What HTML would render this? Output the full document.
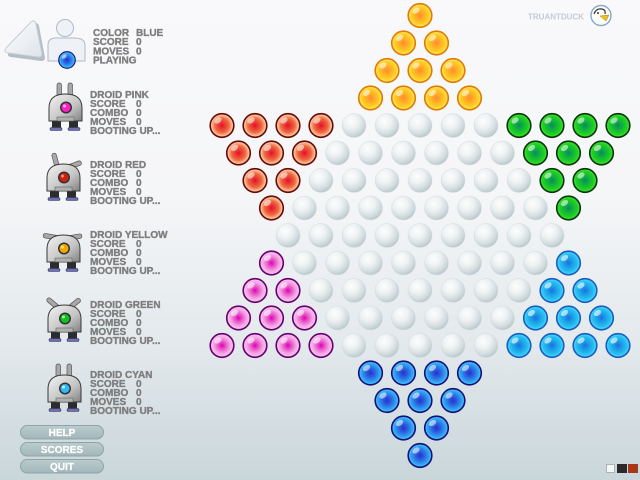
<!DOCTYPE html>
<html><head><meta charset="utf-8"><style>
html,body{margin:0;padding:0;}
body{width:640px;height:480px;overflow:hidden;position:relative;
background:linear-gradient(to bottom,#f9f9fb 0%,#f5f6f8 40%,#e3e9ec 72%,#c9d6da 100%);
font-family:"Liberation Sans",Arial,sans-serif;}
svg{position:absolute;left:0;top:0;}
.t{font-family:"Liberation Sans",Arial,sans-serif;font-weight:bold;font-size:10px;fill:#7e7e7e;stroke:#7e7e7e;stroke-width:0.35px;}
.b{font-family:"Liberation Sans",Arial,sans-serif;font-weight:bold;font-size:10px;fill:#ffffff;stroke:#ffffff;stroke-width:0.2px;}
</style></head><body>
<svg width="640" height="480" viewBox="0 0 640 480" xmlns="http://www.w3.org/2000/svg">
<defs>
<radialGradient id="gR" cx="50%" cy="50%" r="50%"><stop offset="0" stop-color="#e80a30"/><stop offset=".2" stop-color="#e83030"/><stop offset=".6" stop-color="#f06a40"/><stop offset=".9" stop-color="#f8c8a0"/><stop offset="1" stop-color="#f0a080"/></radialGradient>
<radialGradient id="gY" cx="50%" cy="50%" r="50%"><stop offset="0" stop-color="#ff8a30"/><stop offset=".3" stop-color="#ffa828"/><stop offset=".7" stop-color="#ffcc20"/><stop offset="1" stop-color="#ffe870"/></radialGradient>
<radialGradient id="gG" cx="50%" cy="50%" r="50%"><stop offset="0" stop-color="#0a8a60"/><stop offset=".35" stop-color="#10b040"/><stop offset=".75" stop-color="#20d020"/><stop offset="1" stop-color="#40e840"/></radialGradient>
<radialGradient id="gC" cx="50%" cy="50%" r="50%"><stop offset="0" stop-color="#1a70e0"/><stop offset=".35" stop-color="#1c9ce8"/><stop offset=".75" stop-color="#28c0f0"/><stop offset="1" stop-color="#50e0ff"/></radialGradient>
<radialGradient id="gB" cx="50%" cy="50%" r="50%"><stop offset="0" stop-color="#2a30c8"/><stop offset=".35" stop-color="#2a60e0"/><stop offset=".75" stop-color="#30a0f0"/><stop offset="1" stop-color="#50c8ff"/></radialGradient>
<radialGradient id="gM" cx="50%" cy="50%" r="50%"><stop offset="0" stop-color="#e000b0"/><stop offset=".3" stop-color="#e850c8"/><stop offset=".7" stop-color="#f4a8e4"/><stop offset="1" stop-color="#f8c8f0"/></radialGradient>
<radialGradient id="gW" cx="38%" cy="32%" r="72%"><stop offset="0" stop-color="#fdfdfd"/><stop offset=".4" stop-color="#eef2f3"/><stop offset=".75" stop-color="#d2dcdf"/><stop offset="1" stop-color="#b6c5c9"/></radialGradient>
<linearGradient id="gBody" x1="0" y1="0" x2="1" y2="1"><stop offset="0" stop-color="#f4f4f4"/><stop offset=".6" stop-color="#c4c4c4"/><stop offset="1" stop-color="#808080"/></linearGradient>
<linearGradient id="gWedge" x1="0" y1="0" x2="1" y2="1"><stop offset="0" stop-color="#ffffff"/><stop offset="1" stop-color="#dde3ea"/></linearGradient>
<linearGradient id="gBtn" x1="0" y1="0" x2="0" y2="1"><stop offset="0" stop-color="#bccccf"/><stop offset="1" stop-color="#a2b6ba"/></linearGradient>
<g id="mR"><circle r="11.8" fill="url(#gR)" stroke="#6a0808" stroke-width="1.6"/><ellipse cx="-4" cy="-5" rx="4" ry="2.6" fill="#fff" opacity=".55" transform="rotate(-35 -4 -5)"/></g>
<g id="mY"><circle r="11.8" fill="url(#gY)" stroke="#e07a00" stroke-width="1.6"/><ellipse cx="-4" cy="-5" rx="4" ry="2.6" fill="#fff" opacity=".55" transform="rotate(-35 -4 -5)"/></g>
<g id="mG"><circle r="11.8" fill="url(#gG)" stroke="#0a340a" stroke-width="1.6"/><ellipse cx="-4" cy="-5" rx="4" ry="2.6" fill="#fff" opacity=".55" transform="rotate(-35 -4 -5)"/></g>
<g id="mC"><circle r="11.8" fill="url(#gC)" stroke="#1a5cc0" stroke-width="1.6"/><ellipse cx="-4" cy="-5" rx="4" ry="2.6" fill="#fff" opacity=".6" transform="rotate(-35 -4 -5)"/></g>
<g id="mB"><circle r="11.8" fill="url(#gB)" stroke="#12107a" stroke-width="1.6"/><ellipse cx="-4" cy="-5" rx="4" ry="2.6" fill="#fff" opacity=".55" transform="rotate(-35 -4 -5)"/></g>
<g id="mM"><circle r="11.8" fill="url(#gM)" stroke="#660070" stroke-width="1.6"/><ellipse cx="-4" cy="-5" rx="4" ry="2.6" fill="#fff" opacity=".55" transform="rotate(-35 -4 -5)"/></g>
<g id="mW"><circle r="12" fill="url(#gW)" stroke="#d4dde0" stroke-width=".5"/></g>
<g id="droidBase">
<rect x="52" y="120" width="9" height="8" fill="#2c2c2c"/>
<rect x="69" y="120" width="9" height="8" fill="#2c2c2c"/>
<rect x="50" y="127.5" width="12" height="3" rx="1.5" fill="#7070b0" stroke="#303060" stroke-width=".6"/>
<rect x="68" y="127.5" width="12" height="3" rx="1.5" fill="#7070b0" stroke="#303060" stroke-width=".6"/>
<path d="M49,121 L49,108 Q49,94 65.5,94 Q82,94 82,108 L82,121 Z" fill="url(#gBody)" stroke="#3a3a3a" stroke-width="1"/>
<rect x="57" y="117" width="17" height="4" fill="#b0b0b0" stroke="#555" stroke-width=".5"/>
</g>
</defs>

<!-- top-left wedge -->
<path d="M35,24 Q38,22 39,26 L45,58 Q45,61 41,61 L11,57 Q6,56 9,52 Z" fill="#b4bec6"/>
<path d="M31,22 Q35,19 36,24 L42,54 Q42,57 38,57 L8,53 Q3,52 6,48 Z" fill="url(#gWedge)" stroke="#c4ccd4" stroke-width="1"/>

<!-- person -->
<circle cx="65" cy="28" r="8.5" fill="#eef1f6" stroke="#b0b9c6" stroke-width="1"/>
<path d="M48,61 L48,45 Q48,38 56,38 L74,38 Q85,38 85,45 L85,61 Z" fill="#eef1f6" stroke="#b0b9c6" stroke-width="1"/>
<g transform="translate(67,60) scale(0.7)"><use href="#mB"/></g>

<!-- top text -->
<text class="t" x="93" y="36">COLOR</text><text class="t" x="136" y="36">BLUE</text>
<text class="t" x="93" y="45">SCORE</text><text class="t" x="136" y="45">0</text>
<text class="t" x="93" y="54.3">MOVES</text><text class="t" x="136" y="54.3">0</text>
<text class="t" x="93" y="63.3">PLAYING</text>

<!-- droid pink -->
<g>
<rect x="57" y="83" width="4.5" height="14" rx="2" fill="#a8a8a8" stroke="#555" stroke-width=".7"/>
<rect x="68" y="83" width="4.5" height="14" rx="2" fill="#a8a8a8" stroke="#555" stroke-width=".7"/>
<use href="#droidBase"/>
<circle cx="66" cy="107.5" r="6" fill="#333"/><circle cx="66" cy="107.5" r="4.5" fill="#ff20c0"/><circle cx="64.5" cy="106" r="1.5" fill="#ffb0f0"/>
</g>
<text class="t" x="90" y="98">DROID PINK</text>
<text class="t" x="90" y="107">SCORE</text><text class="t" x="136" y="107">0</text>
<text class="t" x="90" y="116">COMBO</text><text class="t" x="136" y="116">0</text>
<text class="t" x="90" y="125">MOVES</text><text class="t" x="136" y="125">0</text>
<text class="t" x="90" y="134">BOOTING UP...</text>

<!-- droid red -->
<g transform="translate(-2,70)">
<rect x="57" y="83" width="4.5" height="14" rx="2" fill="#a8a8a8" stroke="#555" stroke-width=".7" transform="rotate(-15 59 97)"/>
<rect x="68" y="83" width="4.5" height="15" rx="2" fill="#a8a8a8" stroke="#555" stroke-width=".7" transform="rotate(70 70 97)"/>
<use href="#droidBase"/>
<circle cx="66" cy="107.5" r="6" fill="#333"/><circle cx="66" cy="107.5" r="4.5" fill="#d02010"/><circle cx="64.5" cy="106" r="1.5" fill="#ff9080"/>
</g>
<text class="t" x="90" y="168">DROID RED</text>
<text class="t" x="90" y="177">SCORE</text><text class="t" x="136" y="177">0</text>
<text class="t" x="90" y="186">COMBO</text><text class="t" x="136" y="186">0</text>
<text class="t" x="90" y="195">MOVES</text><text class="t" x="136" y="195">0</text>
<text class="t" x="90" y="204">BOOTING UP...</text>

<!-- droid yellow -->
<g transform="translate(-2,141)">
<rect x="57" y="83" width="4.5" height="15" rx="2" fill="#a8a8a8" stroke="#555" stroke-width=".7" transform="rotate(-80 59 97)"/>
<rect x="68" y="83" width="4.5" height="15" rx="2" fill="#a8a8a8" stroke="#555" stroke-width=".7" transform="rotate(80 70 97)"/>
<use href="#droidBase"/>
<circle cx="66" cy="107.5" r="6" fill="#333"/><circle cx="66" cy="107.5" r="4.5" fill="#f0a800"/><circle cx="64.5" cy="106" r="1.5" fill="#ffe080"/>
</g>
<text class="t" x="90" y="238">DROID YELLOW</text>
<text class="t" x="90" y="247">SCORE</text><text class="t" x="136" y="247">0</text>
<text class="t" x="90" y="256">COMBO</text><text class="t" x="136" y="256">0</text>
<text class="t" x="90" y="265">MOVES</text><text class="t" x="136" y="265">0</text>
<text class="t" x="90" y="274">BOOTING UP...</text>

<!-- droid green -->
<g transform="translate(-1,211)">
<rect x="57" y="83" width="4.5" height="15" rx="2" fill="#a8a8a8" stroke="#555" stroke-width=".7" transform="rotate(-50 59 97)"/>
<rect x="68" y="83" width="4.5" height="15" rx="2" fill="#a8a8a8" stroke="#555" stroke-width=".7" transform="rotate(50 70 97)"/>
<use href="#droidBase"/>
<circle cx="66" cy="107.5" r="6" fill="#333"/><circle cx="66" cy="107.5" r="4.5" fill="#10c020"/><circle cx="64.5" cy="106" r="1.5" fill="#a0ffa0"/>
</g>
<text class="t" x="90" y="308">DROID GREEN</text>
<text class="t" x="90" y="317">SCORE</text><text class="t" x="136" y="317">0</text>
<text class="t" x="90" y="326">COMBO</text><text class="t" x="136" y="326">0</text>
<text class="t" x="90" y="335">MOVES</text><text class="t" x="136" y="335">0</text>
<text class="t" x="90" y="344">BOOTING UP...</text>

<!-- droid cyan -->
<g transform="translate(-1,281)">
<rect x="57" y="83" width="4.5" height="14" rx="2" fill="#a8a8a8" stroke="#555" stroke-width=".7"/>
<rect x="68" y="83" width="4.5" height="14" rx="2" fill="#a8a8a8" stroke="#555" stroke-width=".7"/>
<use href="#droidBase"/>
<circle cx="66" cy="107.5" r="6" fill="#333"/><circle cx="66" cy="107.5" r="4.5" fill="#30b8f8"/><circle cx="64.5" cy="106" r="1.5" fill="#c0f0ff"/>
</g>
<text class="t" x="90" y="378">DROID CYAN</text>
<text class="t" x="90" y="387">SCORE</text><text class="t" x="136" y="387">0</text>
<text class="t" x="90" y="396">COMBO</text><text class="t" x="136" y="396">0</text>
<text class="t" x="90" y="405">MOVES</text><text class="t" x="136" y="405">0</text>
<text class="t" x="90" y="414">BOOTING UP...</text>

<!-- buttons -->
<rect x="20.5" y="425.5" width="83" height="13.5" rx="6.75" fill="url(#gBtn)" stroke="#8fa4a9" stroke-width="1"/>
<text class="b" x="62" y="436" text-anchor="middle">HELP</text>
<rect x="20.5" y="442.5" width="83" height="13.5" rx="6.75" fill="url(#gBtn)" stroke="#8fa4a9" stroke-width="1"/>
<text class="b" x="62" y="453" text-anchor="middle">SCORES</text>
<rect x="20.5" y="459.5" width="83" height="13.5" rx="6.75" fill="url(#gBtn)" stroke="#8fa4a9" stroke-width="1"/>
<text class="b" x="62" y="470" text-anchor="middle">QUIT</text>

<!-- logo -->
<text x="528" y="19.5" style="font-family:'Liberation Sans',Arial,sans-serif;font-weight:bold;font-size:8px;fill:#c6cad3;">TRUANTDUCK</text>
<circle cx="601" cy="15.5" r="10" fill="#fdfdfe" stroke="#88a8c8" stroke-width="1.4"/>
<path d="M594,14 Q596,8 602,9 Q606,10 605,14" fill="none" stroke="#333" stroke-width="1.2"/>
<circle cx="598" cy="13" r="1" fill="#333"/>
<path d="M600,16 L609,15 L606,21 Z" fill="#f0c020" stroke="#b08000" stroke-width=".5"/>

<!-- bottom right squares -->
<rect x="606.5" y="464.5" width="8" height="8" fill="#f4f6f8" stroke="#aab4b8" stroke-width="1"/>
<rect x="617" y="464" width="10" height="9" fill="#2a2a2a"/>
<rect x="628" y="464" width="10" height="9" fill="#a83818"/>

<!-- marbles -->
<use href="#mY" x="420" y="15.5"/>
<use href="#mY" x="403.5" y="43"/><use href="#mY" x="436.5" y="43"/>
<use href="#mY" x="387" y="70.5"/><use href="#mY" x="420" y="70.5"/><use href="#mY" x="453" y="70.5"/>
<use href="#mY" x="370.5" y="98"/><use href="#mY" x="403.5" y="98"/><use href="#mY" x="436.5" y="98"/><use href="#mY" x="469.5" y="98"/>

<use href="#mR" x="222" y="125.5"/><use href="#mR" x="255" y="125.5"/><use href="#mR" x="288" y="125.5"/><use href="#mR" x="321" y="125.5"/>
<use href="#mW" x="354" y="125.5"/><use href="#mW" x="387" y="125.5"/><use href="#mW" x="420" y="125.5"/><use href="#mW" x="453" y="125.5"/><use href="#mW" x="486" y="125.5"/>
<use href="#mG" x="519" y="125.5"/><use href="#mG" x="552" y="125.5"/><use href="#mG" x="585" y="125.5"/><use href="#mG" x="618" y="125.5"/>

<use href="#mR" x="238.5" y="153"/><use href="#mR" x="271.5" y="153"/><use href="#mR" x="304.5" y="153"/>
<use href="#mW" x="337.5" y="153"/><use href="#mW" x="370.5" y="153"/><use href="#mW" x="403.5" y="153"/><use href="#mW" x="436.5" y="153"/><use href="#mW" x="469.5" y="153"/><use href="#mW" x="502.5" y="153"/>
<use href="#mG" x="535.5" y="153"/><use href="#mG" x="568.5" y="153"/><use href="#mG" x="601.5" y="153"/>

<use href="#mR" x="255" y="180.5"/><use href="#mR" x="288" y="180.5"/>
<use href="#mW" x="321" y="180.5"/><use href="#mW" x="354" y="180.5"/><use href="#mW" x="387" y="180.5"/><use href="#mW" x="420" y="180.5"/><use href="#mW" x="453" y="180.5"/><use href="#mW" x="486" y="180.5"/><use href="#mW" x="519" y="180.5"/>
<use href="#mG" x="552" y="180.5"/><use href="#mG" x="585" y="180.5"/>

<use href="#mR" x="271.5" y="208"/>
<use href="#mW" x="304.5" y="208"/><use href="#mW" x="337.5" y="208"/><use href="#mW" x="370.5" y="208"/><use href="#mW" x="403.5" y="208"/><use href="#mW" x="436.5" y="208"/><use href="#mW" x="469.5" y="208"/><use href="#mW" x="502.5" y="208"/><use href="#mW" x="535.5" y="208"/>
<use href="#mG" x="568.5" y="208"/>

<use href="#mW" x="288" y="235.5"/><use href="#mW" x="321" y="235.5"/><use href="#mW" x="354" y="235.5"/><use href="#mW" x="387" y="235.5"/><use href="#mW" x="420" y="235.5"/><use href="#mW" x="453" y="235.5"/><use href="#mW" x="486" y="235.5"/><use href="#mW" x="519" y="235.5"/><use href="#mW" x="552" y="235.5"/>

<use href="#mM" x="271.5" y="263"/>
<use href="#mW" x="304.5" y="263"/><use href="#mW" x="337.5" y="263"/><use href="#mW" x="370.5" y="263"/><use href="#mW" x="403.5" y="263"/><use href="#mW" x="436.5" y="263"/><use href="#mW" x="469.5" y="263"/><use href="#mW" x="502.5" y="263"/><use href="#mW" x="535.5" y="263"/>
<use href="#mC" x="568.5" y="263"/>

<use href="#mM" x="255" y="290.5"/><use href="#mM" x="288" y="290.5"/>
<use href="#mW" x="321" y="290.5"/><use href="#mW" x="354" y="290.5"/><use href="#mW" x="387" y="290.5"/><use href="#mW" x="420" y="290.5"/><use href="#mW" x="453" y="290.5"/><use href="#mW" x="486" y="290.5"/><use href="#mW" x="519" y="290.5"/>
<use href="#mC" x="552" y="290.5"/><use href="#mC" x="585" y="290.5"/>

<use href="#mM" x="238.5" y="318"/><use href="#mM" x="271.5" y="318"/><use href="#mM" x="304.5" y="318"/>
<use href="#mW" x="337.5" y="318"/><use href="#mW" x="370.5" y="318"/><use href="#mW" x="403.5" y="318"/><use href="#mW" x="436.5" y="318"/><use href="#mW" x="469.5" y="318"/><use href="#mW" x="502.5" y="318"/>
<use href="#mC" x="535.5" y="318"/><use href="#mC" x="568.5" y="318"/><use href="#mC" x="601.5" y="318"/>

<use href="#mM" x="222" y="345.5"/><use href="#mM" x="255" y="345.5"/><use href="#mM" x="288" y="345.5"/><use href="#mM" x="321" y="345.5"/>
<use href="#mW" x="354" y="345.5"/><use href="#mW" x="387" y="345.5"/><use href="#mW" x="420" y="345.5"/><use href="#mW" x="453" y="345.5"/><use href="#mW" x="486" y="345.5"/>
<use href="#mC" x="519" y="345.5"/><use href="#mC" x="552" y="345.5"/><use href="#mC" x="585" y="345.5"/><use href="#mC" x="618" y="345.5"/>

<use href="#mB" x="370.5" y="373"/><use href="#mB" x="403.5" y="373"/><use href="#mB" x="436.5" y="373"/><use href="#mB" x="469.5" y="373"/>
<use href="#mB" x="387" y="400.5"/><use href="#mB" x="420" y="400.5"/><use href="#mB" x="453" y="400.5"/>
<use href="#mB" x="403.5" y="428"/><use href="#mB" x="436.5" y="428"/>
<use href="#mB" x="420" y="455.5"/>
</svg>
</body></html>
